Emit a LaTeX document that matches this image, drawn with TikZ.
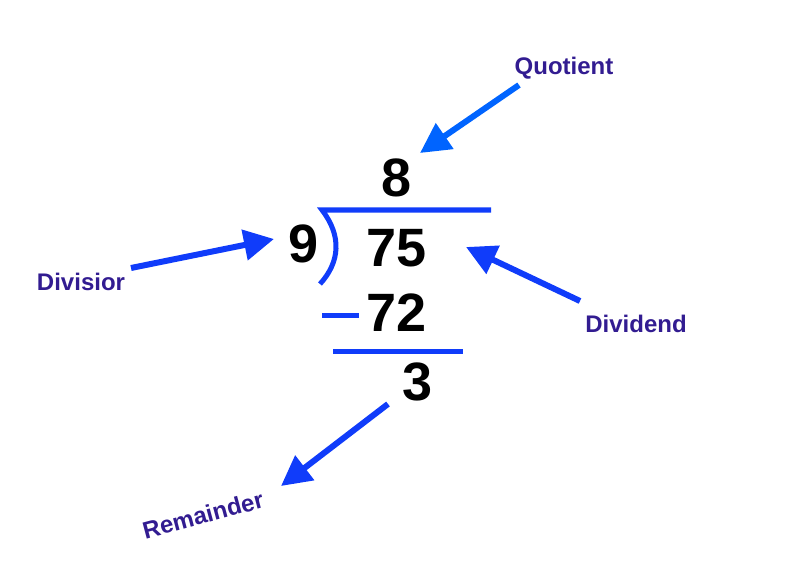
\documentclass[tikz,border=0pt]{standalone}
\usepackage{fontspec}
\setmainfont{Liberation Sans}
\usetikzlibrary{arrows.meta}
\definecolor{lineblue}{RGB}{16,60,250}
\definecolor{qblue}{RGB}{0,100,255}
\definecolor{labelc}{RGB}{50,28,145}
\tikzset{
  digit/.style={inner sep=0pt, font=\fontsize{54}{60}\selectfont\bfseries, text=black},
  lbl/.style={inner sep=0pt, font=\fontsize{24}{28}\selectfont\bfseries, text=labelc},
  bar/.style={draw=lineblue, line width=5pt},
  pointer/.style={draw=lineblue, line width=6pt, -{Triangle[length=30pt,width=30pt]}},
}
\begin{document}
\begin{tikzpicture}[x=1pt,y=-1pt]
\useasboundingbox (0,0) rectangle (800,564);
% numbers
\node[digit] (q) at (397,178) {8};
\node[digit] (d) at (304,244) {9};
\node[digit] (n) at (397,248) {75};
\node[digit] (p) at (397,313) {72};
\node[digit] (r) at (418,382) {3};
% division bracket and bars
\draw[bar, line cap=butt] (491,210) -- (322,210) .. controls (342,236) and (340,262) .. (320,284);
\draw[bar] (322,315) -- (359,315);
\draw[bar] (333,351) -- (463,351);
% labels
\node[lbl] (lq) at (564,68) {Quotient};
\node[lbl] (ld) at (81,282) {Divisior};
\node[lbl] (ln) at (636,324) {Dividend};
\node[lbl, rotate=15] (lr) at (203,515) {Remainder};
% arrow anchors
\coordinate (qs) at (519,85);
\coordinate (qt) at (420,153);
\coordinate (ds) at (131,268);
\coordinate (dt) at (274,239);
\coordinate (ns) at (580,301);
\coordinate (nt) at (466,247);
\coordinate (rs) at (388,404);
\coordinate (rt) at (281,486);
\draw[pointer, draw=qblue, fill=qblue] (qs) -- (qt);
\draw[pointer, fill=lineblue] (ds) -- (dt);
\draw[pointer, fill=lineblue] (ns) -- (nt);
\draw[pointer, fill=lineblue] (rs) -- (rt);
\end{tikzpicture}
\end{document}
